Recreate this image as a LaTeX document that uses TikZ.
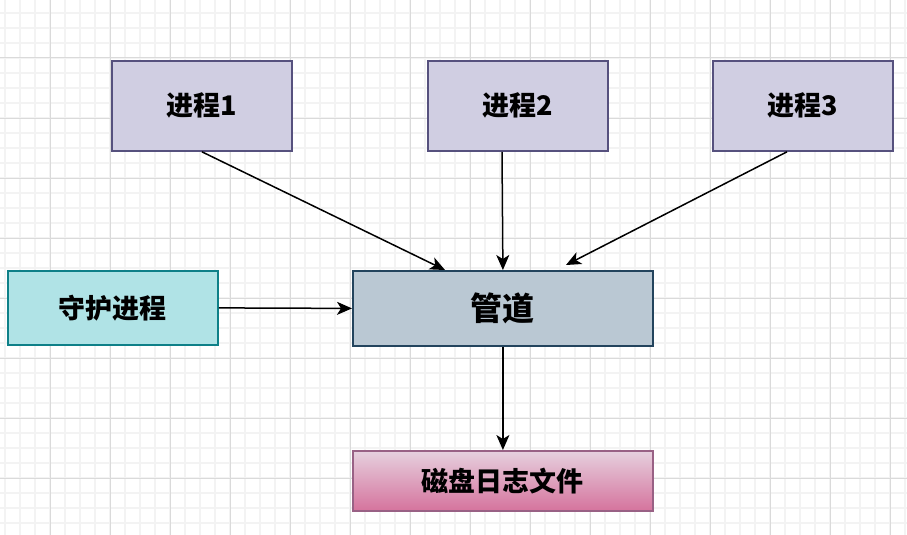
\documentclass[tikz,border=0pt]{standalone}
\usepackage{fontspec}
\setmainfont{Noto Sans CJK SC}
\usetikzlibrary{arrows.meta,calc}
\definecolor{gridminor}{HTML}{F3F3F3}
\definecolor{gridmajor}{HTML}{DADADA}
\definecolor{procfill}{HTML}{D0CEE2}
\definecolor{procdraw}{HTML}{56517E}
\definecolor{pipefill}{HTML}{BAC8D3}
\definecolor{pipedraw}{HTML}{23445D}
\definecolor{daemfill}{HTML}{B0E3E6}
\definecolor{daemdraw}{HTML}{0E8088}
\definecolor{disktop}{HTML}{E6D0DE}
\definecolor{diskbot}{HTML}{D5739D}
\definecolor{diskdraw}{HTML}{996185}
\tikzset{
  box/.style={rectangle, draw, line width=1.8pt, anchor=north west, inner sep=0pt,
    font=\fontsize{27}{30}\selectfont\bfseries},
  proc/.style={box, fill=procfill, draw=procdraw, minimum width=180pt, minimum height=90pt},
  pipe/.style={box, fill=pipefill, draw=pipedraw, minimum width=300pt, minimum height=75pt,
    font=\fontsize{32}{34}\selectfont\bfseries},
  daem/.style={box, fill=daemfill, draw=daemdraw, minimum width=210pt, minimum height=74pt},
  disk/.style={box, top color=disktop, bottom color=diskbot, draw=diskdraw, minimum width=300pt, minimum height=60pt},
  arr/.style={draw=black, line width=1.5pt, -{Stealth[length=15pt,width=13pt,inset=4pt]}},
  minorline/.style={draw=gridminor, line width=1.5pt},
  majorline/.style={draw=gridmajor, line width=1pt}
}
\begin{document}
\begin{tikzpicture}[x=1pt,y=-1pt]
\fill[white] (0,0) rectangle (907,535);
\useasboundingbox (0,0) rectangle (907,535);
\foreach \x in {5,20,...,905} \draw[minorline] (\x,0) -- (\x,535);
\foreach \y in {-2,13,...,535} \draw[minorline] (0,\y) -- (907,\y);
\foreach \x in {50,110,...,890} \draw[majorline] (\x,0) -- (\x,535);
\foreach \y in {-2,58,...,535} \draw[majorline] (0,\y) -- (907,\y);

\node[proc] (p1) at (111,60) {进程1};
\node[proc] (p2) at (427,60) {进程2};
\node[proc] (p3) at (712,60) {进程3};
\node[pipe] (guan) at (352,270) {管道};
\node[daem] (daemon) at (7,270) {守护进程};
\node[disk] (disk) at (352,450) {磁盘日志文件};

\coordinate (e1) at ($(guan.north west)+(93,0)$);
\coordinate (s2) at ($(p2.south west)+(75,0)$);
\coordinate (s3) at ($(p3.south west)+(75,0)$);
\coordinate (e3) at ($(guan.north west)+(214,-5)$);

\draw[arr] (p1.south) -- (e1);
\draw[arr] (s2) -- (guan.north);
\draw[arr] (s3) -- (e3);
\draw[arr] (daemon.east) -- (guan.west);
\draw[arr] (guan.south) -- (disk.north);
\end{tikzpicture}
\end{document}
